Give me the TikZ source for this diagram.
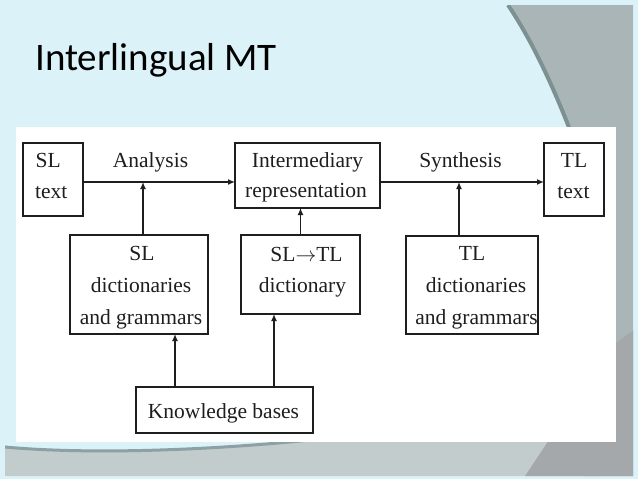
\documentclass[tikz,border=0pt]{standalone}
\usepackage{fontspec}
\setmainfont{Liberation Serif}
\newfontfamily\titlefont{Carlito}
\usetikzlibrary{arrows.meta}
\definecolor{bgblue}{HTML}{DBF3F8}
\definecolor{topband}{HTML}{AAB5B7}
\definecolor{topedge}{HTML}{7D9193}
\definecolor{botband}{HTML}{C3CCCD}
\definecolor{botedge}{HTML}{8DA0A3}
\definecolor{darkgrey}{HTML}{A4A8AA}
\definecolor{ink}{HTML}{1E1E1E}
\begin{document}
\begin{tikzpicture}[x=1pt,y=-1pt,
  box/.style={draw=ink, line width=1.6pt, inner sep=0pt, outer sep=0pt},
  lbl/.style={anchor=base, inner sep=0pt, font=\fontsize{21.5}{26}\selectfont, text=ink},
  arr/.style={draw=ink, line width=1.5pt, -{Latex[length=7pt,width=6pt]}},
]
\useasboundingbox (0,0) rectangle (638,479);
\fill[bgblue] (0,0) rectangle (638,479);
\begin{scope}
  \clip (5,5) rectangle (633,476);
  \fill[topband] (508,5) .. controls (535,45) and (560,100) .. (585,170) -- (585,476) -- (633,476) -- (633,5) -- cycle;
  \draw[topedge, line width=4pt] (508,5) .. controls (535,45) and (560,100) .. (585,170);
  \fill[botband] (5,447) .. controls (80,454) and (200,452) .. (330,438) -- (600,438) -- (600,476) -- (5,476) -- cycle;
  \draw[botedge, line width=3pt] (5,447) .. controls (80,454) and (200,452) .. (330,438);
  \fill[darkgrey] (525,476) -- (547,443) .. controls (570,405) and (590,362) .. (617,342) -- (634,330) -- (634,476) -- cycle;
\end{scope}
\fill[white] (16,127) rectangle (616,442);

% title
\node[anchor=base west, inner sep=0pt, font=\titlefont\fontsize{39}{45}\selectfont, text=black] (title) at (35,70) {Interlingual MT};

% boxes
\node[box, minimum width=60pt, minimum height=73pt] (slt) at (53,179.5) {};
\node[box, minimum width=145pt, minimum height=65pt] (inter) at (307.5,175.5) {};
\node[box, minimum width=60pt, minimum height=73pt] (tlt) at (574,179.5) {};
\node[box, minimum width=138pt, minimum height=99pt] (sld) at (139,284.5) {};
\node[box, minimum width=119pt, minimum height=79pt] (sltl) at (300.5,274.5) {};
\node[box, minimum width=132pt, minimum height=98pt] (tld) at (472,285) {};
\node[box, minimum width=177pt, minimum height=46pt] (kb) at (224.5,410) {};

% texts
\node[lbl, anchor=base west] (t1) at (35.5,167) {SL};
\node[lbl, anchor=base west] (t2) at (35,198) {text};
\node[lbl] (t3) at (150.5,167) {Analysis};
\node[lbl] (t4) at (307.5,167) {Intermediary};
\node[lbl] (t5) at (306,197) {representation};
\node[lbl] (t6) at (460.5,167) {Synthesis};
\node[lbl] (t7) at (574,167) {TL};
\node[lbl] (t8) at (573.5,198) {text};
\node[lbl] (t9) at (142,260) {SL};
\node[lbl] (t10) at (141,292) {dictionaries};
\node[lbl] (t11) at (141,324) {and grammars};
\node[lbl] (t12) at (306.5,261) {SL$\rightarrow$TL};
\node[lbl] (t13) at (302.5,292) {dictionary};
\node[lbl] (t14) at (472,260) {TL};
\node[lbl] (t15) at (476,292) {dictionaries};
\node[lbl] (t16) at (476.5,324) {and grammars};
\node[lbl] (t17) at (223.5,418) {Knowledge bases};

% connectors
\coordinate (my) at (0,182);
\coordinate (a1) at (143,182);
\coordinate (a2) at (459,182);
\coordinate (k1) at (175,0);
\coordinate (k2) at (274,0);
\draw[arr] (slt.east |- my) -- (inter.west |- my);
\draw[arr] (inter.east |- my) -- (tlt.west |- my);
\draw[arr] (sld.north -| a1) -- (a1);
\draw[arr] (tld.north -| a2) -- (a2);
\draw[arr] (sltl.north) -- (inter.south -| sltl.north);
\draw[arr] (kb.north -| k1) -- (sld.south -| k1);
\draw[arr] (kb.north -| k2) -- (sltl.south -| k2);
\end{tikzpicture}
\end{document}
